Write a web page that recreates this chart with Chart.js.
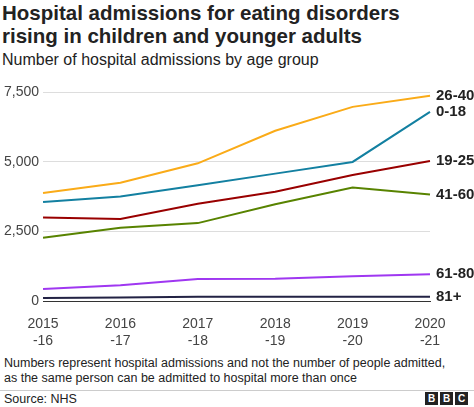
<!DOCTYPE html>
<html><head><meta charset="utf-8">
<script src="https://cdn.jsdelivr.net/npm/chart.js@4"></script>
<style>
body{margin:0;width:474px;height:407px;font-family:"Liberation Sans",Arial,sans-serif;background:#fff;color:#222;overflow:hidden}
h1{font-size:20.5px;line-height:23px;margin:0;padding:1px 0 0 2px;font-weight:bold}
.sub{font-size:16px;margin:4px 0 0 2px}
#wrap{position:absolute;left:0;top:80px;width:474px;height:276px}
.note{position:absolute;left:4px;top:356px;font-size:12.5px;line-height:15px}
.line{position:absolute;left:0;right:0;top:390px;border-top:1px solid #ccc}
.src{position:absolute;left:4px;top:392px;font-size:12.5px}
.bbc{position:absolute;right:6px;top:392px;display:flex;gap:2px}
.bbc span{background:#222;color:#fff;font-size:10px;font-weight:bold;width:13px;height:13px;text-align:center;line-height:13px}
</style></head><body>
<h1>Hospital admissions for eating disorders<br>rising in children and younger adults</h1>
<div class="sub">Number of hospital admissions by age group</div>
<div id="wrap"><canvas id="c"></canvas></div>
<div class="note">Numbers represent hospital admissions and not the number of people admitted,<br>as the same person can be admitted to hospital more than once</div>
<div class="line"></div>
<div class="src">Source: NHS</div>
<div class="bbc"><span>B</span><span>B</span><span>C</span></div>
<script>
// data
const years = [["2015","-16"],["2016","-17"],["2017","-18"],["2018","-19"],["2019","-20"],["2020","-21"]];
const age26to40 = [3880, 4250, 4950, 6120, 6980, 7380];
const age0to18 = [3560, 3760, 4160, 4580, 5000, 6800];
const age19to25 = [3000, 2950, 3500, 3930, 4530, 5030];
const age41to60 = [2270, 2630, 2800, 3480, 4080, 3830];
const age61to80 = [430, 570, 790, 800, 890, 960];
const age81plus = [110, 130, 150, 150, 150, 150];

const series = [
  ["26-40", age26to40, "#FAAB18"],
  ["0-18", age0to18, "#1380A1"],
  ["19-25", age19to25, "#990000"],
  ["41-60", age41to60, "#588300"],
  ["61-80", age61to80, "#9F37F1"],
  ["81+", age81plus, "#222244"]
];

const endLabels = {
  id: "endLabels",
  afterDatasetsDraw(chart) {
    const ctx = chart.ctx;
    ctx.save();
    ctx.font = "bold 15px 'Liberation Sans', Arial";
    ctx.fillStyle = "#222";
    ctx.textBaseline = "middle";
    chart.data.datasets.forEach((ds, i) => {
      const pts = chart.getDatasetMeta(i).data;
      const p = pts[pts.length - 1];
      ctx.fillText(ds.label, p.x + 6, p.y);
    });
    ctx.restore();
  }
};

new Chart(document.querySelector("#c"), {
  type: "line",
  data: {
    labels: years,
    datasets: series.map(s => ({
      label: s[0], data: s[1], borderColor: s[2], backgroundColor: s[2],
      borderWidth: 2, pointRadius: 0, tension: 0
    }))
  },
  options: {
    responsive: true, maintainAspectRatio: false, animation: false,
    layout: { padding: { right: 44, top: 10 } },
    plugins: { legend: { display: false }, tooltip: { enabled: false } },
    scales: {
      x: {
        grid: { display: false },
        border: { color: "#333", width: 1 },
        ticks: { color: "#444", font: { size: 14, lineHeight: 1.25 }, maxRotation: 0, autoSkip: false, padding: 6 }
      },
      y: {
        min: 0, max: 7500,
        grid: { color: "#ddd", drawTicks: false },
        border: { display: false },
        ticks: { stepSize: 2500, color: "#444", font: { size: 14 }, padding: 4,
          callback: v => v.toLocaleString("en-GB") }
      }
    }
  },
  plugins: [endLabels]
});
</script>
</body></html>
